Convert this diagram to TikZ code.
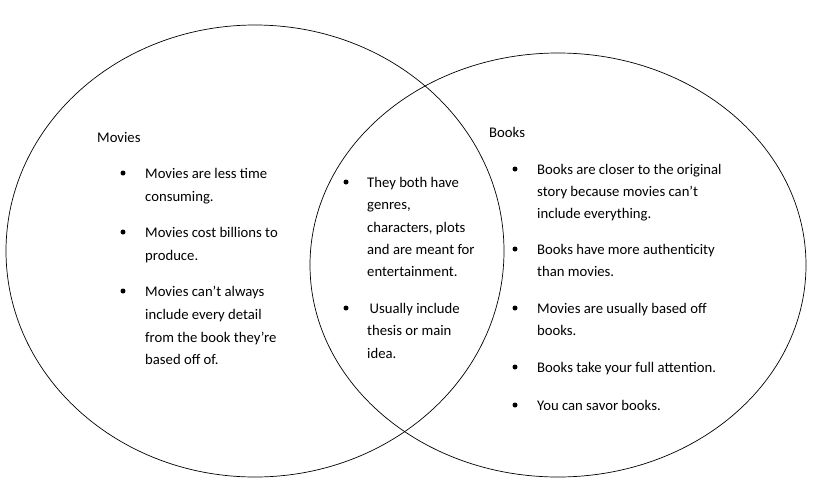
\documentclass[tikz,border=0pt]{standalone}
\usepackage{fontspec}
\setmainfont{Carlito}
\begin{document}
\begin{tikzpicture}[x=1pt,y=-1pt,
  txt/.style={anchor=north west,inner sep=0pt,align=left,font=\fontsize{14.7}{22.8}\selectfont},
  dot/.style={circle,fill=black,inner sep=0pt,minimum size=5pt},
  venn/.style={draw=black,line width=0.7pt}]
\useasboundingbox (0,0) rectangle (816,501);
\draw[venn] (255,251) ellipse [x radius=249,y radius=226];
\draw[venn] (558,265) ellipse [x radius=248,y radius=212];
\node[txt] (mt) at (97,132) {Movies};
\node[txt] (bt) at (489,127) {Books};
% movies
\node[dot] (d1) at (123,173) {}; \node[txt] (m1) at (145,168) {Movies are less time\\consuming.};
\node[dot] (d2) at (123,232) {}; \node[txt] (m2) at (145,227) {Movies cost billions to\\produce.};
\node[dot] (d3) at (123,291) {}; \node[txt] (m3) at (145,286) {Movies can’t always\\include every detail\\from the book they’re\\based off of.};
% middle
\node[dot] (d4) at (346,182) {}; \node[txt,font=\fontsize{14.7}{22.3}\selectfont] (c1) at (367,177) {They both have\\genres,\\characters, plots\\and are meant for\\entertainment.};
\node[dot] (d5) at (346,308) {}; \node[txt,font=\fontsize{14.7}{22.5}\selectfont] (c2) at (367,303) {\,Usually include\\thesis or main\\idea.};
% books
\node[dot] (d6) at (515,169) {}; \node[txt,font=\fontsize{14.7}{22}\selectfont] (b1) at (537,164) {Books are closer to the original\\story because movies can’t\\include everything.};
\node[dot] (d7) at (515,249) {}; \node[txt,font=\fontsize{14.7}{22}\selectfont] (b2) at (537,244) {Books have more authenticity\\than movies.};
\node[dot] (d8) at (515,308) {}; \node[txt,font=\fontsize{14.7}{22}\selectfont] (b3) at (537,303) {Movies are usually based off\\books.};
\node[dot] (d9) at (515,367) {}; \node[txt] (b4) at (537,362) {Books take your full attention.};
\node[dot] (d10) at (515,405) {}; \node[txt] (b5) at (537,400) {You can savor books.};
\end{tikzpicture}
\end{document}
